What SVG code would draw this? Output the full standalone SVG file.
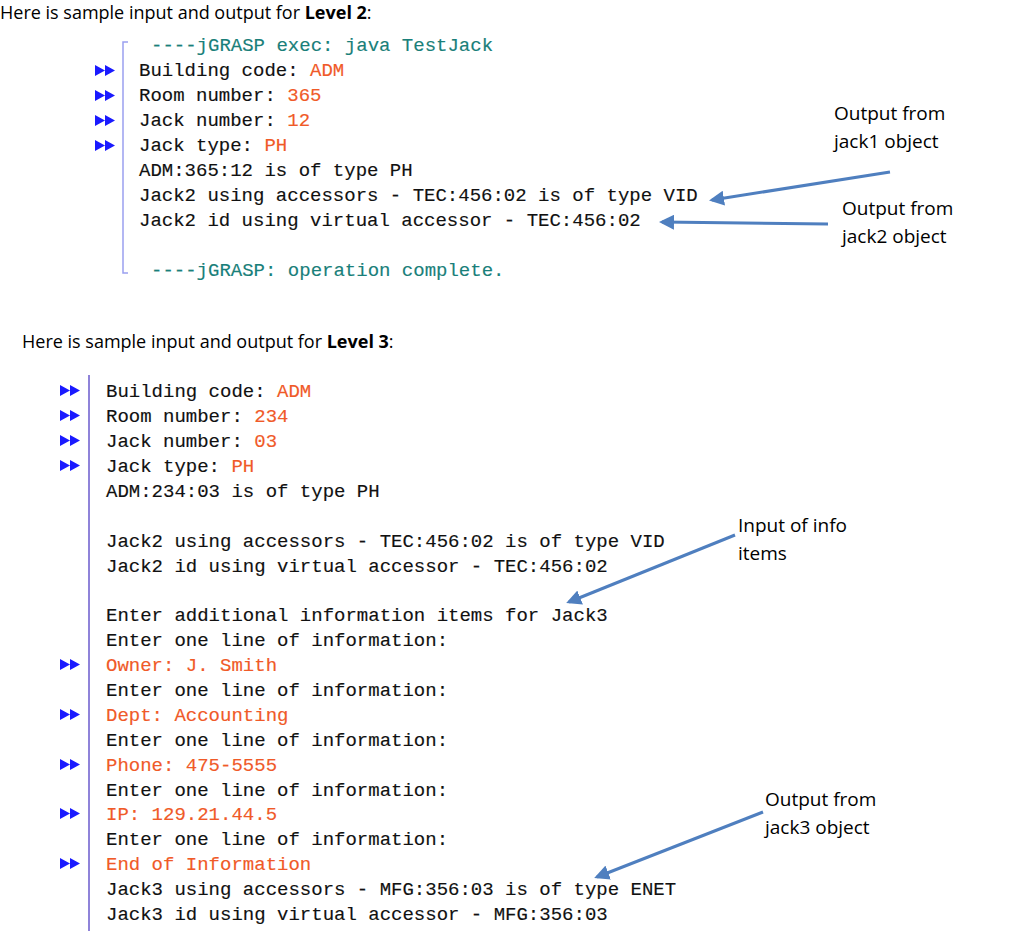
<svg xmlns="http://www.w3.org/2000/svg" width="1024" height="931" viewBox="0 0 1024 931">
<defs>
<style>
.m{font-family:"Liberation Mono",monospace;font-size:19px;fill:#111;stroke:#111;stroke-width:0.15}
.o{fill:#f05a28;stroke:#f05a28}
.t{fill:#1a7f7a;stroke:#1a7f7a}
.h{font-family:"Open Sans","Liberation Sans",sans-serif;font-size:18px;fill:#000}
.c{font-family:"Open Sans","Liberation Sans",sans-serif;font-size:19px;fill:#000}
.pr{fill:#1a1aff}
.ar{stroke:#4f7fbf;stroke-width:3;fill:none;marker-end:url(#ah)}
</style>
<marker id="ah" viewBox="0 0 10 10" refX="8" refY="5" markerWidth="5" markerHeight="5" orient="auto"><path d="M0,0L10,5L0,10z" fill="#4f7fbf"/></marker>
<g id="p"><path d="M0,0L10,5.5L0,11z M10,0L20,5.5L10,11z"/></g>
</defs>
<rect width="1024" height="931" fill="#fff"/>
<text class="h" x="0" y="19">Here is sample input and output for <tspan font-weight="bold">Level 2</tspan>:</text>
<text class="h" x="22" y="348">Here is sample input and output for <tspan font-weight="bold">Level 3</tspan>:</text>
<g id="level2">
<path d="M128,42H123V273H128" stroke="#9aa0f0" stroke-width="1.5" fill="none"/>
<g class="pr"><use href="#p" x="95" y="65"/><use href="#p" x="95" y="90"/><use href="#p" x="95" y="115"/><use href="#p" x="95" y="140"/></g>
<text class="m t" x="151" y="51">----jGRASP exec: java TestJack</text>
<text class="m" x="139" y="76">Building code: <tspan class="o">ADM</tspan></text>
<text class="m" x="139" y="101">Room number: <tspan class="o">365</tspan></text>
<text class="m" x="139" y="126">Jack number: <tspan class="o">12</tspan></text>
<text class="m" x="139" y="151">Jack type: <tspan class="o">PH</tspan></text>
<text class="m" x="139" y="176">ADM:365:12 is of type PH</text>
<text class="m" x="139" y="201">Jack2 using accessors - TEC:456:02 is of type VID</text>
<text class="m" x="139" y="226">Jack2 id using virtual accessor - TEC:456:02</text>
<text class="m t" x="151" y="276">----jGRASP: operation complete.</text>
</g>
<g id="level3">
<line x1="89" y1="375" x2="89" y2="931" stroke="#6a5acd" stroke-width="1.5"/>
<g class="pr"><use href="#p" x="60" y="385"/><use href="#p" x="60" y="410"/><use href="#p" x="60" y="435"/><use href="#p" x="60" y="460"/><use href="#p" x="60" y="659"/><use href="#p" x="60" y="709"/><use href="#p" x="60" y="759"/><use href="#p" x="60" y="808"/><use href="#p" x="60" y="858"/></g>
<text class="m" x="106" y="397">Building code: <tspan class="o">ADM</tspan></text>
<text class="m" x="106" y="422">Room number: <tspan class="o">234</tspan></text>
<text class="m" x="106" y="447">Jack number: <tspan class="o">03</tspan></text>
<text class="m" x="106" y="472">Jack type: <tspan class="o">PH</tspan></text>
<text class="m" x="106" y="497">ADM:234:03 is of type PH</text>
<text class="m" x="106" y="547">Jack2 using accessors - TEC:456:02 is of type VID</text>
<text class="m" x="106" y="572">Jack2 id using virtual accessor - TEC:456:02</text>
<text class="m" x="106" y="621">Enter additional information items for Jack3</text>
<text class="m" x="106" y="646">Enter one line of information:</text>
<text class="m o" x="106" y="671">Owner: J. Smith</text>
<text class="m" x="106" y="696">Enter one line of information:</text>
<text class="m o" x="106" y="721">Dept: Accounting</text>
<text class="m" x="106" y="746">Enter one line of information:</text>
<text class="m o" x="106" y="771">Phone: 475-5555</text>
<text class="m" x="106" y="796">Enter one line of information:</text>
<text class="m o" x="106" y="820">IP: 129.21.44.5</text>
<text class="m" x="106" y="845">Enter one line of information:</text>
<text class="m o" x="106" y="870">End of Information</text>
<text class="m" x="106" y="895">Jack3 using accessors - MFG:356:03 is of type ENET</text>
<text class="m" x="106" y="920">Jack3 id using virtual accessor - MFG:356:03</text>
</g>
<g id="callouts">
<text class="c" x="834" y="120">Output from</text><text class="c" x="834" y="148">jack1 object</text>
<text class="c" x="842" y="215">Output from</text><text class="c" x="842" y="243">jack2 object</text>
<text class="c" x="738" y="532">Input of info</text><text class="c" x="738" y="560">items</text>
<text class="c" x="765" y="806">Output from</text><text class="c" x="765" y="834">jack3 object</text>
</g>
<g id="connectors">
<line class="ar" x1="890" y1="172" x2="712" y2="200"/>
<line class="ar" x1="828" y1="224" x2="662" y2="222"/>
<line class="ar" x1="735" y1="535" x2="569" y2="602"/>
<line class="ar" x1="763" y1="812" x2="597" y2="877"/>
</g>
</svg>
